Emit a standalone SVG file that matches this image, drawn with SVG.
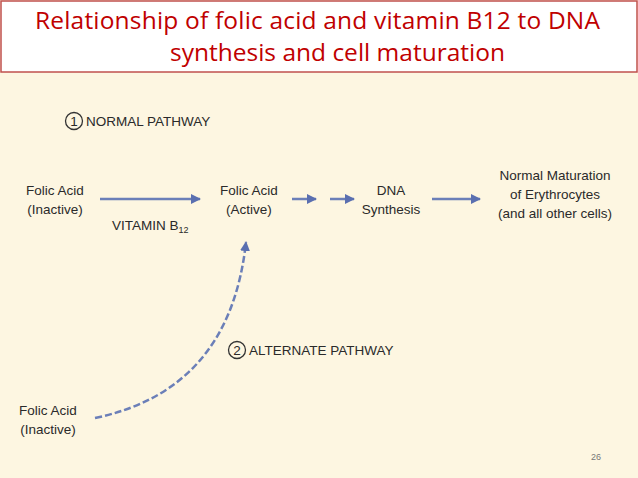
<svg xmlns="http://www.w3.org/2000/svg" width="638" height="478" viewBox="0 0 638 478">
<defs>
<style>
.t{font-family:"Liberation Sans Narrow","Liberation Sans",Arial,sans-serif;font-size:13.5px;fill:#2a2a2a;text-anchor:middle}
.h{font-family:"Liberation Sans Narrow","Liberation Sans",Arial,sans-serif;font-size:13.5px;fill:#2a2a2a}
.ln{stroke:#6b7fb8;stroke-width:2.5;fill:none}
.ti{font-family:"Open Sans",sans-serif;font-size:24.5px;fill:#c00000}
</style>
<marker id="ah" viewBox="0 0 10 10" refX="9" refY="5" markerWidth="4" markerHeight="4" orient="auto"><path d="M0,0L10,5L0,10z" fill="#5a6fb0"/></marker>
</defs>
<rect width="638" height="478" fill="#fdf6e1"/>
<g id="title">
<rect x="1" y="1" width="636" height="71" fill="#fff" stroke="#c0504d" stroke-width="1.5"/>
<text class="ti" x="35" y="29" textLength="565">Relationship of folic acid and vitamin B12 to DNA</text>
<text class="ti" x="170" y="61">synthesis and cell maturation</text>
</g>
<g id="label1"><circle cx="74" cy="121" r="8.5" fill="none" stroke="#333" stroke-width="1.3"/><text class="t" x="74" y="126">1</text><text class="h" x="86" y="126">NORMAL PATHWAY</text></g>
<g id="n1"><text class="t" x="55" y="195">Folic Acid</text><text class="t" x="55" y="214">(Inactive)</text></g>
<g id="n2"><text class="t" x="249" y="195">Folic Acid</text><text class="t" x="249" y="214">(Active)</text></g>
<g id="n3"><text class="t" x="391" y="195">DNA</text><text class="t" x="391" y="214">Synthesis</text></g>
<g id="n4"><text class="t" x="555" y="180">Normal Maturation</text><text class="t" x="555" y="199">of Erythrocytes</text><text class="t" x="555" y="218">(and all other cells)</text></g>
<g id="n5"><text class="t" x="48" y="415">Folic Acid</text><text class="t" x="48" y="434">(Inactive)</text></g>
<g id="label2"><circle cx="237" cy="350" r="8.5" fill="none" stroke="#333" stroke-width="1.3"/><text class="t" x="237" y="355">2</text><text class="h" x="249" y="355">ALTERNATE PATHWAY</text></g>
<g id="vit"><text class="h" x="112" y="230">VITAMIN B<tspan font-size="9" dy="3">12</tspan></text></g>
<g id="connectors">
<line class="ln" x1="100" y1="199" x2="200" y2="199" marker-end="url(#ah)"/>
<line class="ln" x1="292" y1="199" x2="316" y2="199" marker-end="url(#ah)"/>
<line class="ln" x1="330" y1="199" x2="354" y2="199" marker-end="url(#ah)"/>
<line class="ln" x1="432" y1="199" x2="480" y2="199" marker-end="url(#ah)"/>
<path class="ln" d="M95,418 Q230,390 246,242" stroke-dasharray="7,3" marker-end="url(#ah)"/>
</g>
<text x="596" y="460" font-family="Liberation Sans,sans-serif" font-size="9" fill="#777" text-anchor="middle">26</text>
</svg>
